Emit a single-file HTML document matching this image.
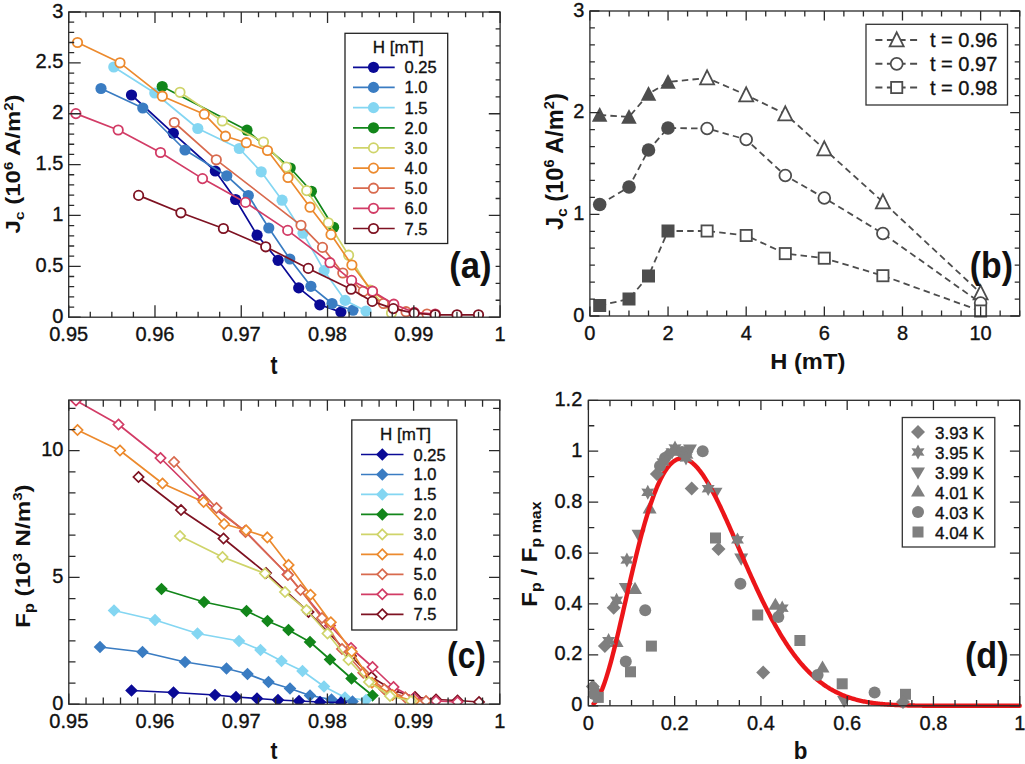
<!DOCTYPE html>
<html><head><meta charset="utf-8"><style>
html,body{margin:0;padding:0;background:#fff;}
svg{display:block;font-family:"Liberation Sans", sans-serif;}
</style></head><body>
<svg width="1025" height="764" viewBox="0 0 1025 764">
<rect width="1025" height="764" fill="#fff"/>
<text x="68.70" y="341.00" font-size="20" text-anchor="middle" font-weight="normal" fill="#111" stroke="#111" stroke-width="0.35">0.95</text>
<text x="154.98" y="341.00" font-size="20" text-anchor="middle" font-weight="normal" fill="#111" stroke="#111" stroke-width="0.35">0.96</text>
<text x="241.26" y="341.00" font-size="20" text-anchor="middle" font-weight="normal" fill="#111" stroke="#111" stroke-width="0.35">0.97</text>
<text x="327.54" y="341.00" font-size="20" text-anchor="middle" font-weight="normal" fill="#111" stroke="#111" stroke-width="0.35">0.98</text>
<text x="413.82" y="341.00" font-size="20" text-anchor="middle" font-weight="normal" fill="#111" stroke="#111" stroke-width="0.35">0.99</text>
<text x="500.10" y="341.00" font-size="20" text-anchor="middle" font-weight="normal" fill="#111" stroke="#111" stroke-width="0.35">1</text>
<text x="63.40" y="322.80" font-size="20" text-anchor="end" font-weight="normal" fill="#111" stroke="#111" stroke-width="0.35">0</text>
<text x="63.40" y="271.93" font-size="20" text-anchor="end" font-weight="normal" fill="#111" stroke="#111" stroke-width="0.35">0.5</text>
<text x="63.40" y="221.07" font-size="20" text-anchor="end" font-weight="normal" fill="#111" stroke="#111" stroke-width="0.35">1</text>
<text x="63.40" y="170.20" font-size="20" text-anchor="end" font-weight="normal" fill="#111" stroke="#111" stroke-width="0.35">1.5</text>
<text x="63.40" y="119.33" font-size="20" text-anchor="end" font-weight="normal" fill="#111" stroke="#111" stroke-width="0.35">2</text>
<text x="63.40" y="68.47" font-size="20" text-anchor="end" font-weight="normal" fill="#111" stroke="#111" stroke-width="0.35">2.5</text>
<text x="63.40" y="17.60" font-size="20" text-anchor="end" font-weight="normal" fill="#111" stroke="#111" stroke-width="0.35">3</text>
<g transform="matrix(0.87500 0 0 1.08750 274.000 374.100)"><text x="0.00" y="0.00" font-size="24" text-anchor="middle" font-weight="bold" fill="#111" >t</text></g>
<g transform="matrix(0.95714 0 0 1.14050 20.471 233.500)"><text transform="translate(0,0) rotate(-90)" font-size="21" font-weight="bold" fill="#111">J<tspan font-size="14" dy="4">c</tspan><tspan dy="-4"> (10</tspan><tspan font-size="13" dy="-8">6</tspan><tspan dy="8"> A/m</tspan><tspan font-size="13" dy="-8">2</tspan><tspan dy="8">)</tspan></text></g>
<clipPath id="cpa"><rect x="68.7" y="12" width="431.4" height="305.2"/></clipPath><g clip-path="url(#cpa)">
<polyline points="131.5,95.0 173.3,133.3 215.3,171.0 235.6,199.5 257.1,235.2 278.1,260.3 298.7,287.9 319.8,304.8 340.9,312.1" fill="none" stroke="#0a0a96" stroke-width="1.7" stroke-linejoin="round"/>
<circle cx="131.5" cy="95.0" r="5.6" fill="#0a0a96"/>
<circle cx="173.3" cy="133.3" r="5.6" fill="#0a0a96"/>
<circle cx="215.3" cy="171.0" r="5.6" fill="#0a0a96"/>
<circle cx="235.6" cy="199.5" r="5.6" fill="#0a0a96"/>
<circle cx="257.1" cy="235.2" r="5.6" fill="#0a0a96"/>
<circle cx="278.1" cy="260.3" r="5.6" fill="#0a0a96"/>
<circle cx="298.7" cy="287.9" r="5.6" fill="#0a0a96"/>
<circle cx="319.8" cy="304.8" r="5.6" fill="#0a0a96"/>
<circle cx="340.9" cy="312.1" r="5.6" fill="#0a0a96"/>
<polyline points="101.0,88.5 142.8,108.0 185.0,150.0 226.8,175.8 248.3,195.5 268.8,228.0 289.8,259.0 310.9,286.3 332.0,303.5 353.0,310.2" fill="none" stroke="#3a7cc2" stroke-width="1.7" stroke-linejoin="round"/>
<circle cx="101.0" cy="88.5" r="5.6" fill="#3a7cc2"/>
<circle cx="142.8" cy="108.0" r="5.6" fill="#3a7cc2"/>
<circle cx="185.0" cy="150.0" r="5.6" fill="#3a7cc2"/>
<circle cx="226.8" cy="175.8" r="5.6" fill="#3a7cc2"/>
<circle cx="248.3" cy="195.5" r="5.6" fill="#3a7cc2"/>
<circle cx="268.8" cy="228.0" r="5.6" fill="#3a7cc2"/>
<circle cx="289.8" cy="259.0" r="5.6" fill="#3a7cc2"/>
<circle cx="310.9" cy="286.3" r="5.6" fill="#3a7cc2"/>
<circle cx="332.0" cy="303.5" r="5.6" fill="#3a7cc2"/>
<circle cx="353.0" cy="310.2" r="5.6" fill="#3a7cc2"/>
<polyline points="113.8,67.0 154.8,93.0 197.8,128.5 239.3,148.5 261.2,171.8 282.1,200.2 303.0,233.2 324.1,270.7 345.2,300.4 366.0,311.0" fill="none" stroke="#84d6f2" stroke-width="1.7" stroke-linejoin="round"/>
<circle cx="113.8" cy="67.0" r="5.6" fill="#84d6f2"/>
<circle cx="154.8" cy="93.0" r="5.6" fill="#84d6f2"/>
<circle cx="197.8" cy="128.5" r="5.6" fill="#84d6f2"/>
<circle cx="239.3" cy="148.5" r="5.6" fill="#84d6f2"/>
<circle cx="261.2" cy="171.8" r="5.6" fill="#84d6f2"/>
<circle cx="282.1" cy="200.2" r="5.6" fill="#84d6f2"/>
<circle cx="303.0" cy="233.2" r="5.6" fill="#84d6f2"/>
<circle cx="324.1" cy="270.7" r="5.6" fill="#84d6f2"/>
<circle cx="345.2" cy="300.4" r="5.6" fill="#84d6f2"/>
<circle cx="366.0" cy="311.0" r="5.6" fill="#84d6f2"/>
<polyline points="162.2,86.5 247.0,130.2 290.2,168.0 311.4,191.3 333.6,227.3" fill="none" stroke="#12861a" stroke-width="1.7" stroke-linejoin="round"/>
<circle cx="162.2" cy="86.5" r="5.6" fill="#12861a"/>
<circle cx="247.0" cy="130.2" r="5.6" fill="#12861a"/>
<circle cx="290.2" cy="168.0" r="5.6" fill="#12861a"/>
<circle cx="311.4" cy="191.3" r="5.6" fill="#12861a"/>
<circle cx="333.6" cy="227.3" r="5.6" fill="#12861a"/>
<polyline points="180.0,92.3 222.3,121.0 263.5,142.0 286.3,167.1 306.7,190.6 328.3,222.8 348.6,255.2 370.0,290.0 391.5,313.0" fill="none" stroke="#cfd46a" stroke-width="1.7" stroke-linejoin="round"/>
<circle cx="180.0" cy="92.3" r="4.699999999999999" fill="#fff" stroke="#cfd46a" stroke-width="1.8"/>
<circle cx="222.3" cy="121.0" r="4.699999999999999" fill="#fff" stroke="#cfd46a" stroke-width="1.8"/>
<circle cx="263.5" cy="142.0" r="4.699999999999999" fill="#fff" stroke="#cfd46a" stroke-width="1.8"/>
<circle cx="286.3" cy="167.1" r="4.699999999999999" fill="#fff" stroke="#cfd46a" stroke-width="1.8"/>
<circle cx="306.7" cy="190.6" r="4.699999999999999" fill="#fff" stroke="#cfd46a" stroke-width="1.8"/>
<circle cx="328.3" cy="222.8" r="4.699999999999999" fill="#fff" stroke="#cfd46a" stroke-width="1.8"/>
<circle cx="348.6" cy="255.2" r="4.699999999999999" fill="#fff" stroke="#cfd46a" stroke-width="1.8"/>
<circle cx="370.0" cy="290.0" r="4.699999999999999" fill="#fff" stroke="#cfd46a" stroke-width="1.8"/>
<circle cx="391.5" cy="313.0" r="4.699999999999999" fill="#fff" stroke="#cfd46a" stroke-width="1.8"/>
<polyline points="77.5,42.5 120.0,62.8 162.3,96.2 204.3,114.2 225.5,136.2 246.3,142.7 267.5,150.5 288.0,177.5 310.0,207.2 331.0,234.6 351.9,265.0 372.5,291.5 393.0,306.0" fill="none" stroke="#ec8a2e" stroke-width="1.7" stroke-linejoin="round"/>
<circle cx="77.5" cy="42.5" r="4.699999999999999" fill="#fff" stroke="#ec8a2e" stroke-width="1.8"/>
<circle cx="120.0" cy="62.8" r="4.699999999999999" fill="#fff" stroke="#ec8a2e" stroke-width="1.8"/>
<circle cx="162.3" cy="96.2" r="4.699999999999999" fill="#fff" stroke="#ec8a2e" stroke-width="1.8"/>
<circle cx="204.3" cy="114.2" r="4.699999999999999" fill="#fff" stroke="#ec8a2e" stroke-width="1.8"/>
<circle cx="225.5" cy="136.2" r="4.699999999999999" fill="#fff" stroke="#ec8a2e" stroke-width="1.8"/>
<circle cx="246.3" cy="142.7" r="4.699999999999999" fill="#fff" stroke="#ec8a2e" stroke-width="1.8"/>
<circle cx="267.5" cy="150.5" r="4.699999999999999" fill="#fff" stroke="#ec8a2e" stroke-width="1.8"/>
<circle cx="288.0" cy="177.5" r="4.699999999999999" fill="#fff" stroke="#ec8a2e" stroke-width="1.8"/>
<circle cx="310.0" cy="207.2" r="4.699999999999999" fill="#fff" stroke="#ec8a2e" stroke-width="1.8"/>
<circle cx="331.0" cy="234.6" r="4.699999999999999" fill="#fff" stroke="#ec8a2e" stroke-width="1.8"/>
<circle cx="351.9" cy="265.0" r="4.699999999999999" fill="#fff" stroke="#ec8a2e" stroke-width="1.8"/>
<circle cx="372.5" cy="291.5" r="4.699999999999999" fill="#fff" stroke="#ec8a2e" stroke-width="1.8"/>
<circle cx="393.0" cy="306.0" r="4.699999999999999" fill="#fff" stroke="#ec8a2e" stroke-width="1.8"/>
<polyline points="174.3,122.5 216.3,159.8 301.0,225.3 322.5,247.4 342.8,273.0 363.3,291.4 383.5,303.5 406.0,311.7 427.0,314.0" fill="none" stroke="#d86a4e" stroke-width="1.7" stroke-linejoin="round"/>
<circle cx="174.3" cy="122.5" r="4.699999999999999" fill="#fff" stroke="#d86a4e" stroke-width="1.8"/>
<circle cx="216.3" cy="159.8" r="4.699999999999999" fill="#fff" stroke="#d86a4e" stroke-width="1.8"/>
<circle cx="301.0" cy="225.3" r="4.699999999999999" fill="#fff" stroke="#d86a4e" stroke-width="1.8"/>
<circle cx="322.5" cy="247.4" r="4.699999999999999" fill="#fff" stroke="#d86a4e" stroke-width="1.8"/>
<circle cx="342.8" cy="273.0" r="4.699999999999999" fill="#fff" stroke="#d86a4e" stroke-width="1.8"/>
<circle cx="363.3" cy="291.4" r="4.699999999999999" fill="#fff" stroke="#d86a4e" stroke-width="1.8"/>
<circle cx="383.5" cy="303.5" r="4.699999999999999" fill="#fff" stroke="#d86a4e" stroke-width="1.8"/>
<circle cx="406.0" cy="311.7" r="4.699999999999999" fill="#fff" stroke="#d86a4e" stroke-width="1.8"/>
<circle cx="427.0" cy="314.0" r="4.699999999999999" fill="#fff" stroke="#d86a4e" stroke-width="1.8"/>
<polyline points="75.9,113.6 118.2,130.0 160.5,152.5 202.5,178.6 245.5,202.4 287.7,230.4 330.0,262.7 351.6,280.4 372.5,291.2 393.8,304.2 414.2,312.4 435.2,314.0" fill="none" stroke="#d23c66" stroke-width="1.7" stroke-linejoin="round"/>
<circle cx="75.9" cy="113.6" r="4.699999999999999" fill="#fff" stroke="#d23c66" stroke-width="1.8"/>
<circle cx="118.2" cy="130.0" r="4.699999999999999" fill="#fff" stroke="#d23c66" stroke-width="1.8"/>
<circle cx="160.5" cy="152.5" r="4.699999999999999" fill="#fff" stroke="#d23c66" stroke-width="1.8"/>
<circle cx="202.5" cy="178.6" r="4.699999999999999" fill="#fff" stroke="#d23c66" stroke-width="1.8"/>
<circle cx="245.5" cy="202.4" r="4.699999999999999" fill="#fff" stroke="#d23c66" stroke-width="1.8"/>
<circle cx="287.7" cy="230.4" r="4.699999999999999" fill="#fff" stroke="#d23c66" stroke-width="1.8"/>
<circle cx="330.0" cy="262.7" r="4.699999999999999" fill="#fff" stroke="#d23c66" stroke-width="1.8"/>
<circle cx="351.6" cy="280.4" r="4.699999999999999" fill="#fff" stroke="#d23c66" stroke-width="1.8"/>
<circle cx="372.5" cy="291.2" r="4.699999999999999" fill="#fff" stroke="#d23c66" stroke-width="1.8"/>
<circle cx="393.8" cy="304.2" r="4.699999999999999" fill="#fff" stroke="#d23c66" stroke-width="1.8"/>
<circle cx="414.2" cy="312.4" r="4.699999999999999" fill="#fff" stroke="#d23c66" stroke-width="1.8"/>
<circle cx="435.2" cy="314.0" r="4.699999999999999" fill="#fff" stroke="#d23c66" stroke-width="1.8"/>
<polyline points="138.6,195.4 180.9,212.8 223.4,228.5 265.7,246.8 308.3,268.4 351.1,289.2 372.3,301.4 393.3,308.6 414.2,313.2 435.2,314.8 457.0,314.8 478.5,314.8" fill="none" stroke="#7e1222" stroke-width="1.7" stroke-linejoin="round"/>
<circle cx="138.6" cy="195.4" r="4.699999999999999" fill="#fff" stroke="#7e1222" stroke-width="1.8"/>
<circle cx="180.9" cy="212.8" r="4.699999999999999" fill="#fff" stroke="#7e1222" stroke-width="1.8"/>
<circle cx="223.4" cy="228.5" r="4.699999999999999" fill="#fff" stroke="#7e1222" stroke-width="1.8"/>
<circle cx="265.7" cy="246.8" r="4.699999999999999" fill="#fff" stroke="#7e1222" stroke-width="1.8"/>
<circle cx="308.3" cy="268.4" r="4.699999999999999" fill="#fff" stroke="#7e1222" stroke-width="1.8"/>
<circle cx="351.1" cy="289.2" r="4.699999999999999" fill="#fff" stroke="#7e1222" stroke-width="1.8"/>
<circle cx="372.3" cy="301.4" r="4.699999999999999" fill="#fff" stroke="#7e1222" stroke-width="1.8"/>
<circle cx="393.3" cy="308.6" r="4.699999999999999" fill="#fff" stroke="#7e1222" stroke-width="1.8"/>
<circle cx="414.2" cy="313.2" r="4.699999999999999" fill="#fff" stroke="#7e1222" stroke-width="1.8"/>
<circle cx="435.2" cy="314.8" r="4.699999999999999" fill="#fff" stroke="#7e1222" stroke-width="1.8"/>
<circle cx="457.0" cy="314.8" r="4.699999999999999" fill="#fff" stroke="#7e1222" stroke-width="1.8"/>
<circle cx="478.5" cy="314.8" r="4.699999999999999" fill="#fff" stroke="#7e1222" stroke-width="1.8"/>
</g>
<rect x="345" y="33.3" width="102.7" height="210.2" fill="#fff" stroke="#222" stroke-width="1.3"/>
<g transform="matrix(1.06304 0 0 0.98667 398.150 53.440)"><text x="0.00" y="0.00" font-size="16" text-anchor="middle" font-weight="normal" fill="#111" stroke="#111" stroke-width="0.3">H [mT]</text></g>
<line x1="353" y1="67.3" x2="394.7" y2="67.3" stroke="#0a0a96" stroke-width="1.7"/>
<circle cx="373.5" cy="67.3" r="5.6" fill="#0a0a96"/>
<text x="404.50" y="73.30" font-size="16.5" text-anchor="start" font-weight="normal" fill="#111" stroke="#111" stroke-width="0.35">0.25</text>
<line x1="353" y1="87.4" x2="394.7" y2="87.4" stroke="#3a7cc2" stroke-width="1.7"/>
<circle cx="373.5" cy="87.4" r="5.6" fill="#3a7cc2"/>
<text x="404.50" y="93.45" font-size="16.5" text-anchor="start" font-weight="normal" fill="#111" stroke="#111" stroke-width="0.35">1.0</text>
<line x1="353" y1="107.6" x2="394.7" y2="107.6" stroke="#84d6f2" stroke-width="1.7"/>
<circle cx="373.5" cy="107.6" r="5.6" fill="#84d6f2"/>
<text x="404.50" y="113.60" font-size="16.5" text-anchor="start" font-weight="normal" fill="#111" stroke="#111" stroke-width="0.35">1.5</text>
<line x1="353" y1="127.8" x2="394.7" y2="127.8" stroke="#12861a" stroke-width="1.7"/>
<circle cx="373.5" cy="127.8" r="5.6" fill="#12861a"/>
<text x="404.50" y="133.75" font-size="16.5" text-anchor="start" font-weight="normal" fill="#111" stroke="#111" stroke-width="0.35">2.0</text>
<line x1="353" y1="147.9" x2="394.7" y2="147.9" stroke="#cfd46a" stroke-width="1.7"/>
<circle cx="373.5" cy="147.9" r="4.699999999999999" fill="#fff" stroke="#cfd46a" stroke-width="1.8"/>
<text x="404.50" y="153.90" font-size="16.5" text-anchor="start" font-weight="normal" fill="#111" stroke="#111" stroke-width="0.35">3.0</text>
<line x1="353" y1="168.1" x2="394.7" y2="168.1" stroke="#ec8a2e" stroke-width="1.7"/>
<circle cx="373.5" cy="168.1" r="4.699999999999999" fill="#fff" stroke="#ec8a2e" stroke-width="1.8"/>
<text x="404.50" y="174.05" font-size="16.5" text-anchor="start" font-weight="normal" fill="#111" stroke="#111" stroke-width="0.35">4.0</text>
<line x1="353" y1="188.2" x2="394.7" y2="188.2" stroke="#d86a4e" stroke-width="1.7"/>
<circle cx="373.5" cy="188.2" r="4.699999999999999" fill="#fff" stroke="#d86a4e" stroke-width="1.8"/>
<text x="404.50" y="194.20" font-size="16.5" text-anchor="start" font-weight="normal" fill="#111" stroke="#111" stroke-width="0.35">5.0</text>
<line x1="353" y1="208.3" x2="394.7" y2="208.3" stroke="#d23c66" stroke-width="1.7"/>
<circle cx="373.5" cy="208.3" r="4.699999999999999" fill="#fff" stroke="#d23c66" stroke-width="1.8"/>
<text x="404.50" y="214.35" font-size="16.5" text-anchor="start" font-weight="normal" fill="#111" stroke="#111" stroke-width="0.35">6.0</text>
<line x1="353" y1="228.5" x2="394.7" y2="228.5" stroke="#7e1222" stroke-width="1.7"/>
<circle cx="373.5" cy="228.5" r="4.699999999999999" fill="#fff" stroke="#7e1222" stroke-width="1.8"/>
<text x="404.50" y="234.50" font-size="16.5" text-anchor="start" font-weight="normal" fill="#111" stroke="#111" stroke-width="0.35">7.5</text>
<g transform="matrix(1.01842 0 0 1.07097 470.450 278.003)"><text x="0.00" y="0.00" font-size="34" text-anchor="middle" font-weight="bold" fill="#111" >(a)</text></g>
<text x="589.90" y="339.60" font-size="20" text-anchor="middle" font-weight="normal" fill="#111" stroke="#111" stroke-width="0.35">0</text>
<text x="668.05" y="339.60" font-size="20" text-anchor="middle" font-weight="normal" fill="#111" stroke="#111" stroke-width="0.35">2</text>
<text x="746.19" y="339.60" font-size="20" text-anchor="middle" font-weight="normal" fill="#111" stroke="#111" stroke-width="0.35">4</text>
<text x="824.34" y="339.60" font-size="20" text-anchor="middle" font-weight="normal" fill="#111" stroke="#111" stroke-width="0.35">6</text>
<text x="902.48" y="339.60" font-size="20" text-anchor="middle" font-weight="normal" fill="#111" stroke="#111" stroke-width="0.35">8</text>
<text x="980.63" y="339.60" font-size="20" text-anchor="middle" font-weight="normal" fill="#111" stroke="#111" stroke-width="0.35">10</text>
<text x="584.30" y="321.60" font-size="20" text-anchor="end" font-weight="normal" fill="#111" stroke="#111" stroke-width="0.35">0</text>
<text x="584.30" y="219.93" font-size="20" text-anchor="end" font-weight="normal" fill="#111" stroke="#111" stroke-width="0.35">1</text>
<text x="584.30" y="118.27" font-size="20" text-anchor="end" font-weight="normal" fill="#111" stroke="#111" stroke-width="0.35">2</text>
<text x="584.30" y="16.60" font-size="20" text-anchor="end" font-weight="normal" fill="#111" stroke="#111" stroke-width="0.35">3</text>
<g transform="matrix(1.07761 0 0 1.01905 807.761 369.005)"><text x="0.00" y="0.00" font-size="22" text-anchor="middle" font-weight="bold" fill="#111" >H (mT)</text></g>
<g transform="matrix(1.09524 0 0 1.12397 563.019 230.100)"><text transform="translate(0,0) rotate(-90)" font-size="21" font-weight="bold" fill="#111">J<tspan font-size="14" dy="4">c</tspan><tspan dy="-4"> (10</tspan><tspan font-size="13" dy="-8">6</tspan><tspan dy="8"> A/m</tspan><tspan font-size="13" dy="-8">2</tspan><tspan dy="8">)</tspan></text></g>
<polyline points="599.7,115.0 629.0,117.0 648.5,94.0 668.0,82.0 707.1,78.0 746.2,95.0 785.3,114.0 824.3,149.0 882.9,202.0 980.6,293.0" fill="none" stroke="#4d4d4d" stroke-width="1.8" stroke-linejoin="round" stroke-dasharray="6.5,4.2"/>
<path d="M599.7,106.9L607.4,121.7L591.9,121.7Z" fill="#4d4d4d"/>
<path d="M629.0,108.9L636.7,123.7L621.2,123.7Z" fill="#4d4d4d"/>
<path d="M648.5,85.9L656.3,100.7L640.8,100.7Z" fill="#4d4d4d"/>
<path d="M668.0,73.9L675.8,88.7L660.3,88.7Z" fill="#4d4d4d"/>
<path d="M707.1,70.3L714.1,84.3L700.1,84.3Z" fill="#fff" stroke="#4d4d4d" stroke-width="1.8" stroke-linejoin="miter"/>
<path d="M746.2,87.3L753.2,101.3L739.2,101.3Z" fill="#fff" stroke="#4d4d4d" stroke-width="1.8" stroke-linejoin="miter"/>
<path d="M785.3,106.3L792.3,120.3L778.3,120.3Z" fill="#fff" stroke="#4d4d4d" stroke-width="1.8" stroke-linejoin="miter"/>
<path d="M824.3,141.3L831.3,155.3L817.3,155.3Z" fill="#fff" stroke="#4d4d4d" stroke-width="1.8" stroke-linejoin="miter"/>
<path d="M882.9,194.3L889.9,208.3L875.9,208.3Z" fill="#fff" stroke="#4d4d4d" stroke-width="1.8" stroke-linejoin="miter"/>
<path d="M980.6,285.3L987.6,299.3L973.6,299.3Z" fill="#fff" stroke="#4d4d4d" stroke-width="1.8" stroke-linejoin="miter"/>
<polyline points="599.7,204.5 629.0,187.0 648.5,150.0 668.0,128.0 707.1,128.5 746.2,139.5 785.3,175.5 824.3,198.0 882.9,233.5 980.6,303.0" fill="none" stroke="#4d4d4d" stroke-width="1.8" stroke-linejoin="round" stroke-dasharray="6.5,4.2"/>
<circle cx="599.7" cy="204.5" r="6.8" fill="#4d4d4d"/>
<circle cx="629.0" cy="187.0" r="6.8" fill="#4d4d4d"/>
<circle cx="648.5" cy="150.0" r="6.8" fill="#4d4d4d"/>
<circle cx="668.0" cy="128.0" r="6.8" fill="#4d4d4d"/>
<circle cx="707.1" cy="128.5" r="5.8999999999999995" fill="#fff" stroke="#4d4d4d" stroke-width="1.8"/>
<circle cx="746.2" cy="139.5" r="5.8999999999999995" fill="#fff" stroke="#4d4d4d" stroke-width="1.8"/>
<circle cx="785.3" cy="175.5" r="5.8999999999999995" fill="#fff" stroke="#4d4d4d" stroke-width="1.8"/>
<circle cx="824.3" cy="198.0" r="5.8999999999999995" fill="#fff" stroke="#4d4d4d" stroke-width="1.8"/>
<circle cx="882.9" cy="233.5" r="5.8999999999999995" fill="#fff" stroke="#4d4d4d" stroke-width="1.8"/>
<circle cx="980.6" cy="303.0" r="5.8999999999999995" fill="#fff" stroke="#4d4d4d" stroke-width="1.8"/>
<polyline points="599.7,305.5 629.0,299.0 648.5,276.0 668.0,231.0 707.1,231.0 746.2,235.5 785.3,253.6 824.3,258.2 882.9,275.7 980.6,311.0" fill="none" stroke="#4d4d4d" stroke-width="1.8" stroke-linejoin="round" stroke-dasharray="6.5,4.2"/>
<rect x="593.2" y="299.0" width="13" height="13" fill="#4d4d4d"/>
<rect x="622.5" y="292.5" width="13" height="13" fill="#4d4d4d"/>
<rect x="642.0" y="269.5" width="13" height="13" fill="#4d4d4d"/>
<rect x="661.5" y="224.5" width="13" height="13" fill="#4d4d4d"/>
<rect x="701.5" y="225.4" width="11.2" height="11.2" fill="#fff" stroke="#4d4d4d" stroke-width="1.8"/>
<rect x="740.6" y="229.9" width="11.2" height="11.2" fill="#fff" stroke="#4d4d4d" stroke-width="1.8"/>
<rect x="779.7" y="248.0" width="11.2" height="11.2" fill="#fff" stroke="#4d4d4d" stroke-width="1.8"/>
<rect x="818.7" y="252.6" width="11.2" height="11.2" fill="#fff" stroke="#4d4d4d" stroke-width="1.8"/>
<rect x="877.3" y="270.1" width="11.2" height="11.2" fill="#fff" stroke="#4d4d4d" stroke-width="1.8"/>
<rect x="975.0" y="305.4" width="11.2" height="11.2" fill="#fff" stroke="#4d4d4d" stroke-width="1.8"/>
<rect x="866" y="24.3" width="141.5" height="80.7" fill="#fff" stroke="#333" stroke-width="1.3"/>
<line x1="875.4" y1="40.0" x2="896.7" y2="40.0" stroke="#4d4d4d" stroke-width="1.8" stroke-dasharray="7,4.5"/>
<line x1="917.1" y1="40.0" x2="896.7" y2="40.0" stroke="#4d4d4d" stroke-width="1.8" stroke-dasharray="7,4.5"/>
<path d="M896.7,32.3L903.7,46.3L889.7,46.3Z" fill="#fff" stroke="#4d4d4d" stroke-width="1.8" stroke-linejoin="miter"/>
<text x="930.00" y="47.30" font-size="20" text-anchor="start" font-weight="normal" fill="#111" stroke="#111" stroke-width="0.35">t = 0.96</text>
<line x1="875.4" y1="63.75" x2="896.7" y2="63.75" stroke="#4d4d4d" stroke-width="1.8" stroke-dasharray="7,4.5"/>
<line x1="917.1" y1="63.75" x2="896.7" y2="63.75" stroke="#4d4d4d" stroke-width="1.8" stroke-dasharray="7,4.5"/>
<circle cx="896.7" cy="63.8" r="6.0" fill="#fff" stroke="#4d4d4d" stroke-width="1.8"/>
<text x="930.00" y="71.05" font-size="20" text-anchor="start" font-weight="normal" fill="#111" stroke="#111" stroke-width="0.35">t = 0.97</text>
<line x1="875.4" y1="87.5" x2="896.7" y2="87.5" stroke="#4d4d4d" stroke-width="1.8" stroke-dasharray="7,4.5"/>
<line x1="917.1" y1="87.5" x2="896.7" y2="87.5" stroke="#4d4d4d" stroke-width="1.8" stroke-dasharray="7,4.5"/>
<rect x="891.1" y="81.9" width="11.2" height="11.2" fill="#fff" stroke="#4d4d4d" stroke-width="1.8"/>
<text x="930.00" y="94.80" font-size="20" text-anchor="start" font-weight="normal" fill="#111" stroke="#111" stroke-width="0.35">t = 0.98</text>
<g transform="matrix(0.99500 0 0 1.06774 991.400 277.926)"><text x="0.00" y="0.00" font-size="34" text-anchor="middle" font-weight="bold" fill="#111" >(b)</text></g>
<text x="68.80" y="728.00" font-size="20" text-anchor="middle" font-weight="normal" fill="#111" stroke="#111" stroke-width="0.35">0.95</text>
<text x="155.00" y="728.00" font-size="20" text-anchor="middle" font-weight="normal" fill="#111" stroke="#111" stroke-width="0.35">0.96</text>
<text x="241.20" y="728.00" font-size="20" text-anchor="middle" font-weight="normal" fill="#111" stroke="#111" stroke-width="0.35">0.97</text>
<text x="327.40" y="728.00" font-size="20" text-anchor="middle" font-weight="normal" fill="#111" stroke="#111" stroke-width="0.35">0.98</text>
<text x="413.60" y="728.00" font-size="20" text-anchor="middle" font-weight="normal" fill="#111" stroke="#111" stroke-width="0.35">0.99</text>
<text x="499.80" y="728.00" font-size="20" text-anchor="middle" font-weight="normal" fill="#111" stroke="#111" stroke-width="0.35">1</text>
<text x="63.40" y="709.80" font-size="20" text-anchor="end" font-weight="normal" fill="#111" stroke="#111" stroke-width="0.35">0</text>
<text x="63.40" y="583.05" font-size="20" text-anchor="end" font-weight="normal" fill="#111" stroke="#111" stroke-width="0.35">5</text>
<text x="63.40" y="456.30" font-size="20" text-anchor="end" font-weight="normal" fill="#111" stroke="#111" stroke-width="0.35">10</text>
<g transform="matrix(0.87500 0 0 1.00625 274.000 759.300)"><text x="0.00" y="0.00" font-size="24" text-anchor="middle" font-weight="bold" fill="#111" >t</text></g>
<g transform="matrix(0.97917 0 0 1.15122 30.146 627.751)"><text transform="translate(0,0) rotate(-90)" font-size="21" font-weight="bold" fill="#111">F<tspan font-size="14" dy="4">p</tspan><tspan dy="-4"> (10</tspan><tspan font-size="13" dy="-8">3</tspan><tspan dy="8"> N/m</tspan><tspan font-size="13" dy="-8">3</tspan><tspan dy="8">)</tspan></text></g>
<clipPath id="cpc"><rect x="68.8" y="400" width="431" height="304.2"/></clipPath><g clip-path="url(#cpc)">
<polyline points="138.5,477.0 181.0,510.0 223.5,538.5 266.0,573.0 308.5,612.0 351.0,656.0 371.5,677.0 393.5,690.5 415.0,697.0 436.0,699.5 457.5,700.5 479.0,702.0" fill="none" stroke="#7e1222" stroke-width="1.7" stroke-linejoin="round"/>
<path d="M138.5,471.9L143.6,477.0L138.5,482.1L133.4,477.0Z" fill="#fff" stroke="#7e1222" stroke-width="1.7"/>
<path d="M181.0,504.9L186.1,510.0L181.0,515.1L175.9,510.0Z" fill="#fff" stroke="#7e1222" stroke-width="1.7"/>
<path d="M223.5,533.4L228.6,538.5L223.5,543.6L218.4,538.5Z" fill="#fff" stroke="#7e1222" stroke-width="1.7"/>
<path d="M266.0,567.9L271.1,573.0L266.0,578.1L260.9,573.0Z" fill="#fff" stroke="#7e1222" stroke-width="1.7"/>
<path d="M308.5,606.9L313.6,612.0L308.5,617.1L303.4,612.0Z" fill="#fff" stroke="#7e1222" stroke-width="1.7"/>
<path d="M351.0,650.9L356.1,656.0L351.0,661.1L345.9,656.0Z" fill="#fff" stroke="#7e1222" stroke-width="1.7"/>
<path d="M371.5,671.9L376.6,677.0L371.5,682.1L366.4,677.0Z" fill="#fff" stroke="#7e1222" stroke-width="1.7"/>
<path d="M393.5,685.4L398.6,690.5L393.5,695.6L388.4,690.5Z" fill="#fff" stroke="#7e1222" stroke-width="1.7"/>
<path d="M415.0,691.9L420.1,697.0L415.0,702.1L409.9,697.0Z" fill="#fff" stroke="#7e1222" stroke-width="1.7"/>
<path d="M436.0,694.4L441.1,699.5L436.0,704.6L430.9,699.5Z" fill="#fff" stroke="#7e1222" stroke-width="1.7"/>
<path d="M457.5,695.4L462.6,700.5L457.5,705.6L452.4,700.5Z" fill="#fff" stroke="#7e1222" stroke-width="1.7"/>
<path d="M479.0,696.9L484.1,702.0L479.0,707.1L473.9,702.0Z" fill="#fff" stroke="#7e1222" stroke-width="1.7"/>
<polyline points="76.0,400.5 118.5,424.5 160.5,458.0 202.5,499.5 245.0,531.0 287.5,574.5 330.0,625.5 351.0,648.0 372.5,667.0 393.5,687.0 414.0,698.0 436.0,701.0 457.5,702.0" fill="none" stroke="#d23c66" stroke-width="1.7" stroke-linejoin="round"/>
<path d="M76.0,395.4L81.1,400.5L76.0,405.6L70.9,400.5Z" fill="#fff" stroke="#d23c66" stroke-width="1.7"/>
<path d="M118.5,419.4L123.6,424.5L118.5,429.6L113.4,424.5Z" fill="#fff" stroke="#d23c66" stroke-width="1.7"/>
<path d="M160.5,452.9L165.6,458.0L160.5,463.1L155.4,458.0Z" fill="#fff" stroke="#d23c66" stroke-width="1.7"/>
<path d="M202.5,494.4L207.6,499.5L202.5,504.6L197.4,499.5Z" fill="#fff" stroke="#d23c66" stroke-width="1.7"/>
<path d="M245.0,525.9L250.1,531.0L245.0,536.1L239.9,531.0Z" fill="#fff" stroke="#d23c66" stroke-width="1.7"/>
<path d="M287.5,569.4L292.6,574.5L287.5,579.6L282.4,574.5Z" fill="#fff" stroke="#d23c66" stroke-width="1.7"/>
<path d="M330.0,620.4L335.1,625.5L330.0,630.6L324.9,625.5Z" fill="#fff" stroke="#d23c66" stroke-width="1.7"/>
<path d="M351.0,642.9L356.1,648.0L351.0,653.1L345.9,648.0Z" fill="#fff" stroke="#d23c66" stroke-width="1.7"/>
<path d="M372.5,661.9L377.6,667.0L372.5,672.1L367.4,667.0Z" fill="#fff" stroke="#d23c66" stroke-width="1.7"/>
<path d="M393.5,681.9L398.6,687.0L393.5,692.1L388.4,687.0Z" fill="#fff" stroke="#d23c66" stroke-width="1.7"/>
<path d="M414.0,692.9L419.1,698.0L414.0,703.1L408.9,698.0Z" fill="#fff" stroke="#d23c66" stroke-width="1.7"/>
<path d="M436.0,695.9L441.1,701.0L436.0,706.1L430.9,701.0Z" fill="#fff" stroke="#d23c66" stroke-width="1.7"/>
<path d="M457.5,696.9L462.6,702.0L457.5,707.1L452.4,702.0Z" fill="#fff" stroke="#d23c66" stroke-width="1.7"/>
<polyline points="174.0,462.0 216.5,508.0 245.5,532.0 288.0,575.0 300.5,590.0 322.0,618.0 342.0,649.0 363.3,672.8 384.3,689.2 405.4,697.4 426.0,701.0" fill="none" stroke="#d86a4e" stroke-width="1.7" stroke-linejoin="round"/>
<path d="M174.0,456.9L179.1,462.0L174.0,467.1L168.9,462.0Z" fill="#fff" stroke="#d86a4e" stroke-width="1.7"/>
<path d="M216.5,502.9L221.6,508.0L216.5,513.1L211.4,508.0Z" fill="#fff" stroke="#d86a4e" stroke-width="1.7"/>
<path d="M245.5,526.9L250.6,532.0L245.5,537.1L240.4,532.0Z" fill="#fff" stroke="#d86a4e" stroke-width="1.7"/>
<path d="M288.0,569.9L293.1,575.0L288.0,580.1L282.9,575.0Z" fill="#fff" stroke="#d86a4e" stroke-width="1.7"/>
<path d="M300.5,584.9L305.6,590.0L300.5,595.1L295.4,590.0Z" fill="#fff" stroke="#d86a4e" stroke-width="1.7"/>
<path d="M322.0,612.9L327.1,618.0L322.0,623.1L316.9,618.0Z" fill="#fff" stroke="#d86a4e" stroke-width="1.7"/>
<path d="M342.0,643.9L347.1,649.0L342.0,654.1L336.9,649.0Z" fill="#fff" stroke="#d86a4e" stroke-width="1.7"/>
<path d="M363.3,667.7L368.4,672.8L363.3,677.9L358.2,672.8Z" fill="#fff" stroke="#d86a4e" stroke-width="1.7"/>
<path d="M384.3,684.1L389.4,689.2L384.3,694.3L379.2,689.2Z" fill="#fff" stroke="#d86a4e" stroke-width="1.7"/>
<path d="M405.4,692.3L410.5,697.4L405.4,702.5L400.3,697.4Z" fill="#fff" stroke="#d86a4e" stroke-width="1.7"/>
<path d="M426.0,695.9L431.1,701.0L426.0,706.1L420.9,701.0Z" fill="#fff" stroke="#d86a4e" stroke-width="1.7"/>
<polyline points="77.5,430.0 120.0,450.5 162.5,483.5 203.6,502.0 224.1,524.0 246.1,530.3 267.3,537.4 288.6,564.9 310.5,594.7 330.8,622.2 351.7,651.6 372.0,682.7 392.5,695.0 414.0,701.0" fill="none" stroke="#ec8a2e" stroke-width="1.7" stroke-linejoin="round"/>
<path d="M77.5,424.9L82.6,430.0L77.5,435.1L72.4,430.0Z" fill="#fff" stroke="#ec8a2e" stroke-width="1.7"/>
<path d="M120.0,445.4L125.1,450.5L120.0,455.6L114.9,450.5Z" fill="#fff" stroke="#ec8a2e" stroke-width="1.7"/>
<path d="M162.5,478.4L167.6,483.5L162.5,488.6L157.4,483.5Z" fill="#fff" stroke="#ec8a2e" stroke-width="1.7"/>
<path d="M203.6,496.9L208.7,502.0L203.6,507.1L198.5,502.0Z" fill="#fff" stroke="#ec8a2e" stroke-width="1.7"/>
<path d="M224.1,518.9L229.2,524.0L224.1,529.1L219.0,524.0Z" fill="#fff" stroke="#ec8a2e" stroke-width="1.7"/>
<path d="M246.1,525.2L251.2,530.3L246.1,535.4L241.0,530.3Z" fill="#fff" stroke="#ec8a2e" stroke-width="1.7"/>
<path d="M267.3,532.3L272.4,537.4L267.3,542.5L262.2,537.4Z" fill="#fff" stroke="#ec8a2e" stroke-width="1.7"/>
<path d="M288.6,559.8L293.7,564.9L288.6,570.0L283.5,564.9Z" fill="#fff" stroke="#ec8a2e" stroke-width="1.7"/>
<path d="M310.5,589.6L315.6,594.7L310.5,599.8L305.4,594.7Z" fill="#fff" stroke="#ec8a2e" stroke-width="1.7"/>
<path d="M330.8,617.1L335.9,622.2L330.8,627.3L325.7,622.2Z" fill="#fff" stroke="#ec8a2e" stroke-width="1.7"/>
<path d="M351.7,646.5L356.8,651.6L351.7,656.7L346.6,651.6Z" fill="#fff" stroke="#ec8a2e" stroke-width="1.7"/>
<path d="M372.0,677.6L377.1,682.7L372.0,687.8L366.9,682.7Z" fill="#fff" stroke="#ec8a2e" stroke-width="1.7"/>
<path d="M392.5,689.9L397.6,695.0L392.5,700.1L387.4,695.0Z" fill="#fff" stroke="#ec8a2e" stroke-width="1.7"/>
<path d="M414.0,695.9L419.1,701.0L414.0,706.1L408.9,701.0Z" fill="#fff" stroke="#ec8a2e" stroke-width="1.7"/>
<polyline points="180.0,536.0 222.5,557.0 265.0,573.5 285.0,592.0 306.5,610.0 327.5,633.5 348.5,660.0 369.0,682.0 390.0,696.0 411.0,701.0" fill="none" stroke="#cfd46a" stroke-width="1.7" stroke-linejoin="round"/>
<path d="M180.0,530.9L185.1,536.0L180.0,541.1L174.9,536.0Z" fill="#fff" stroke="#cfd46a" stroke-width="1.7"/>
<path d="M222.5,551.9L227.6,557.0L222.5,562.1L217.4,557.0Z" fill="#fff" stroke="#cfd46a" stroke-width="1.7"/>
<path d="M265.0,568.4L270.1,573.5L265.0,578.6L259.9,573.5Z" fill="#fff" stroke="#cfd46a" stroke-width="1.7"/>
<path d="M285.0,586.9L290.1,592.0L285.0,597.1L279.9,592.0Z" fill="#fff" stroke="#cfd46a" stroke-width="1.7"/>
<path d="M306.5,604.9L311.6,610.0L306.5,615.1L301.4,610.0Z" fill="#fff" stroke="#cfd46a" stroke-width="1.7"/>
<path d="M327.5,628.4L332.6,633.5L327.5,638.6L322.4,633.5Z" fill="#fff" stroke="#cfd46a" stroke-width="1.7"/>
<path d="M348.5,654.9L353.6,660.0L348.5,665.1L343.4,660.0Z" fill="#fff" stroke="#cfd46a" stroke-width="1.7"/>
<path d="M369.0,676.9L374.1,682.0L369.0,687.1L363.9,682.0Z" fill="#fff" stroke="#cfd46a" stroke-width="1.7"/>
<path d="M390.0,690.9L395.1,696.0L390.0,701.1L384.9,696.0Z" fill="#fff" stroke="#cfd46a" stroke-width="1.7"/>
<path d="M411.0,695.9L416.1,701.0L411.0,706.1L405.9,701.0Z" fill="#fff" stroke="#cfd46a" stroke-width="1.7"/>
<polyline points="161.5,589.0 204.0,602.0 246.5,611.0 267.5,621.0 288.5,630.0 310.0,642.0 330.0,659.5 351.5,678.5 372.5,695.5" fill="none" stroke="#12861a" stroke-width="1.7" stroke-linejoin="round"/>
<path d="M161.5,582.7L167.8,589.0L161.5,595.3L155.2,589.0Z" fill="#12861a"/>
<path d="M204.0,595.7L210.3,602.0L204.0,608.3L197.7,602.0Z" fill="#12861a"/>
<path d="M246.5,604.7L252.8,611.0L246.5,617.3L240.2,611.0Z" fill="#12861a"/>
<path d="M267.5,614.7L273.8,621.0L267.5,627.3L261.2,621.0Z" fill="#12861a"/>
<path d="M288.5,623.7L294.8,630.0L288.5,636.3L282.2,630.0Z" fill="#12861a"/>
<path d="M310.0,635.7L316.3,642.0L310.0,648.3L303.7,642.0Z" fill="#12861a"/>
<path d="M330.0,653.2L336.3,659.5L330.0,665.8L323.7,659.5Z" fill="#12861a"/>
<path d="M351.5,672.2L357.8,678.5L351.5,684.8L345.2,678.5Z" fill="#12861a"/>
<path d="M372.5,689.2L378.8,695.5L372.5,701.8L366.2,695.5Z" fill="#12861a"/>
<polyline points="114.0,610.5 155.0,620.0 197.5,633.5 239.0,641.0 260.5,650.0 281.5,661.0 302.5,671.0 324.0,686.5 345.0,697.5 366.0,700.0" fill="none" stroke="#84d6f2" stroke-width="1.7" stroke-linejoin="round"/>
<path d="M114.0,604.2L120.3,610.5L114.0,616.8L107.7,610.5Z" fill="#84d6f2"/>
<path d="M155.0,613.7L161.3,620.0L155.0,626.3L148.7,620.0Z" fill="#84d6f2"/>
<path d="M197.5,627.2L203.8,633.5L197.5,639.8L191.2,633.5Z" fill="#84d6f2"/>
<path d="M239.0,634.7L245.3,641.0L239.0,647.3L232.7,641.0Z" fill="#84d6f2"/>
<path d="M260.5,643.7L266.8,650.0L260.5,656.3L254.2,650.0Z" fill="#84d6f2"/>
<path d="M281.5,654.7L287.8,661.0L281.5,667.3L275.2,661.0Z" fill="#84d6f2"/>
<path d="M302.5,664.7L308.8,671.0L302.5,677.3L296.2,671.0Z" fill="#84d6f2"/>
<path d="M324.0,680.2L330.3,686.5L324.0,692.8L317.7,686.5Z" fill="#84d6f2"/>
<path d="M345.0,691.2L351.3,697.5L345.0,703.8L338.7,697.5Z" fill="#84d6f2"/>
<path d="M366.0,693.7L372.3,700.0L366.0,706.3L359.7,700.0Z" fill="#84d6f2"/>
<polyline points="100.0,647.0 142.5,652.0 185.0,662.0 226.5,668.5 247.5,674.0 268.5,682.0 290.0,688.5 310.0,695.5 331.5,699.5 352.5,701.5" fill="none" stroke="#3a7cc2" stroke-width="1.7" stroke-linejoin="round"/>
<path d="M100.0,640.7L106.3,647.0L100.0,653.3L93.7,647.0Z" fill="#3a7cc2"/>
<path d="M142.5,645.7L148.8,652.0L142.5,658.3L136.2,652.0Z" fill="#3a7cc2"/>
<path d="M185.0,655.7L191.3,662.0L185.0,668.3L178.7,662.0Z" fill="#3a7cc2"/>
<path d="M226.5,662.2L232.8,668.5L226.5,674.8L220.2,668.5Z" fill="#3a7cc2"/>
<path d="M247.5,667.7L253.8,674.0L247.5,680.3L241.2,674.0Z" fill="#3a7cc2"/>
<path d="M268.5,675.7L274.8,682.0L268.5,688.3L262.2,682.0Z" fill="#3a7cc2"/>
<path d="M290.0,682.2L296.3,688.5L290.0,694.8L283.7,688.5Z" fill="#3a7cc2"/>
<path d="M310.0,689.2L316.3,695.5L310.0,701.8L303.7,695.5Z" fill="#3a7cc2"/>
<path d="M331.5,693.2L337.8,699.5L331.5,705.8L325.2,699.5Z" fill="#3a7cc2"/>
<path d="M352.5,695.2L358.8,701.5L352.5,707.8L346.2,701.5Z" fill="#3a7cc2"/>
<polyline points="131.5,690.5 173.5,692.5 215.0,695.0 236.0,697.0 257.0,698.5 278.0,700.0 299.0,701.0 320.0,702.0 341.0,702.5" fill="none" stroke="#0a0a96" stroke-width="1.7" stroke-linejoin="round"/>
<path d="M131.5,684.2L137.8,690.5L131.5,696.8L125.2,690.5Z" fill="#0a0a96"/>
<path d="M173.5,686.2L179.8,692.5L173.5,698.8L167.2,692.5Z" fill="#0a0a96"/>
<path d="M215.0,688.7L221.3,695.0L215.0,701.3L208.7,695.0Z" fill="#0a0a96"/>
<path d="M236.0,690.7L242.3,697.0L236.0,703.3L229.7,697.0Z" fill="#0a0a96"/>
<path d="M257.0,692.2L263.3,698.5L257.0,704.8L250.7,698.5Z" fill="#0a0a96"/>
<path d="M278.0,693.7L284.3,700.0L278.0,706.3L271.7,700.0Z" fill="#0a0a96"/>
<path d="M299.0,694.7L305.3,701.0L299.0,707.3L292.7,701.0Z" fill="#0a0a96"/>
<path d="M320.0,695.7L326.3,702.0L320.0,708.3L313.7,702.0Z" fill="#0a0a96"/>
<path d="M341.0,696.2L347.3,702.5L341.0,708.8L334.7,702.5Z" fill="#0a0a96"/>
</g>
<rect x="351.8" y="420" width="105" height="210" fill="#fff" stroke="#222" stroke-width="1.3"/>
<g transform="matrix(1.06304 0 0 1.00667 405.550 440.080)"><text x="0.00" y="0.00" font-size="16" text-anchor="middle" font-weight="normal" fill="#111" stroke="#111" stroke-width="0.3">H [mT]</text></g>
<line x1="361" y1="454.5" x2="403.5" y2="454.5" stroke="#0a0a96" stroke-width="1.7"/>
<path d="M382.3,448.2L388.6,454.5L382.3,460.8L376.0,454.5Z" fill="#0a0a96"/>
<text x="413.50" y="460.50" font-size="16.5" text-anchor="start" font-weight="normal" fill="#111" stroke="#111" stroke-width="0.35">0.25</text>
<line x1="361" y1="474.5" x2="403.5" y2="474.5" stroke="#3a7cc2" stroke-width="1.7"/>
<path d="M382.3,468.2L388.6,474.5L382.3,480.8L376.0,474.5Z" fill="#3a7cc2"/>
<text x="413.50" y="480.47" font-size="16.5" text-anchor="start" font-weight="normal" fill="#111" stroke="#111" stroke-width="0.35">1.0</text>
<line x1="361" y1="494.4" x2="403.5" y2="494.4" stroke="#84d6f2" stroke-width="1.7"/>
<path d="M382.3,488.1L388.6,494.4L382.3,500.7L376.0,494.4Z" fill="#84d6f2"/>
<text x="413.50" y="500.44" font-size="16.5" text-anchor="start" font-weight="normal" fill="#111" stroke="#111" stroke-width="0.35">1.5</text>
<line x1="361" y1="514.4" x2="403.5" y2="514.4" stroke="#12861a" stroke-width="1.7"/>
<path d="M382.3,508.1L388.6,514.4L382.3,520.7L376.0,514.4Z" fill="#12861a"/>
<text x="413.50" y="520.41" font-size="16.5" text-anchor="start" font-weight="normal" fill="#111" stroke="#111" stroke-width="0.35">2.0</text>
<line x1="361" y1="534.4" x2="403.5" y2="534.4" stroke="#cfd46a" stroke-width="1.7"/>
<path d="M382.3,529.3L387.4,534.4L382.3,539.5L377.2,534.4Z" fill="#fff" stroke="#cfd46a" stroke-width="1.7"/>
<text x="413.50" y="540.38" font-size="16.5" text-anchor="start" font-weight="normal" fill="#111" stroke="#111" stroke-width="0.35">3.0</text>
<line x1="361" y1="554.4" x2="403.5" y2="554.4" stroke="#ec8a2e" stroke-width="1.7"/>
<path d="M382.3,549.2L387.4,554.4L382.3,559.5L377.2,554.4Z" fill="#fff" stroke="#ec8a2e" stroke-width="1.7"/>
<text x="413.50" y="560.35" font-size="16.5" text-anchor="start" font-weight="normal" fill="#111" stroke="#111" stroke-width="0.35">4.0</text>
<line x1="361" y1="574.3" x2="403.5" y2="574.3" stroke="#d86a4e" stroke-width="1.7"/>
<path d="M382.3,569.2L387.4,574.3L382.3,579.4L377.2,574.3Z" fill="#fff" stroke="#d86a4e" stroke-width="1.7"/>
<text x="413.50" y="580.32" font-size="16.5" text-anchor="start" font-weight="normal" fill="#111" stroke="#111" stroke-width="0.35">5.0</text>
<line x1="361" y1="594.3" x2="403.5" y2="594.3" stroke="#d23c66" stroke-width="1.7"/>
<path d="M382.3,589.2L387.4,594.3L382.3,599.4L377.2,594.3Z" fill="#fff" stroke="#d23c66" stroke-width="1.7"/>
<text x="413.50" y="600.29" font-size="16.5" text-anchor="start" font-weight="normal" fill="#111" stroke="#111" stroke-width="0.35">6.0</text>
<line x1="361" y1="614.3" x2="403.5" y2="614.3" stroke="#7e1222" stroke-width="1.7"/>
<path d="M382.3,609.1L387.4,614.3L382.3,619.4L377.2,614.3Z" fill="#fff" stroke="#7e1222" stroke-width="1.7"/>
<text x="413.50" y="620.26" font-size="16.5" text-anchor="start" font-weight="normal" fill="#111" stroke="#111" stroke-width="0.35">7.5</text>
<g transform="matrix(0.93684 0 0 1.06774 466.500 668.326)"><text x="0.00" y="0.00" font-size="34" text-anchor="middle" font-weight="bold" fill="#111" >(c)</text></g>
<text x="588.40" y="730.00" font-size="20" text-anchor="middle" font-weight="normal" fill="#111" stroke="#111" stroke-width="0.35">0</text>
<text x="674.66" y="730.00" font-size="20" text-anchor="middle" font-weight="normal" fill="#111" stroke="#111" stroke-width="0.35">0.2</text>
<text x="760.92" y="730.00" font-size="20" text-anchor="middle" font-weight="normal" fill="#111" stroke="#111" stroke-width="0.35">0.4</text>
<text x="847.18" y="730.00" font-size="20" text-anchor="middle" font-weight="normal" fill="#111" stroke="#111" stroke-width="0.35">0.6</text>
<text x="933.44" y="730.00" font-size="20" text-anchor="middle" font-weight="normal" fill="#111" stroke="#111" stroke-width="0.35">0.8</text>
<text x="1019.70" y="730.00" font-size="20" text-anchor="middle" font-weight="normal" fill="#111" stroke="#111" stroke-width="0.35">1</text>
<text x="582.30" y="711.40" font-size="20" text-anchor="end" font-weight="normal" fill="#111" stroke="#111" stroke-width="0.35">0</text>
<text x="582.30" y="660.48" font-size="20" text-anchor="end" font-weight="normal" fill="#111" stroke="#111" stroke-width="0.35">0.2</text>
<text x="582.30" y="609.57" font-size="20" text-anchor="end" font-weight="normal" fill="#111" stroke="#111" stroke-width="0.35">0.4</text>
<text x="582.30" y="558.65" font-size="20" text-anchor="end" font-weight="normal" fill="#111" stroke="#111" stroke-width="0.35">0.6</text>
<text x="582.30" y="507.73" font-size="20" text-anchor="end" font-weight="normal" fill="#111" stroke="#111" stroke-width="0.35">0.8</text>
<text x="582.30" y="456.82" font-size="20" text-anchor="end" font-weight="normal" fill="#111" stroke="#111" stroke-width="0.35">1</text>
<text x="582.30" y="405.90" font-size="20" text-anchor="end" font-weight="normal" fill="#111" stroke="#111" stroke-width="0.35">1.2</text>
<g transform="matrix(1.01818 0 0 1.05000 800.491 759.100)"><text x="0.00" y="0.00" font-size="22" text-anchor="middle" font-weight="bold" fill="#111" >b</text></g>
<g transform="matrix(1.07273 0 0 1.14286 536.591 606.643)"><text transform="translate(0,0) rotate(-90)" font-size="21" font-weight="bold" fill="#111">F<tspan font-size="14" dy="4">p</tspan><tspan dy="-4"> / F</tspan><tspan font-size="14" dy="4">p max</tspan></text></g>
<path d="M596.0,682.5L603.0,694.6L589.0,694.6Z" fill="#7f7f7f"/>
<path d="M616.6,635.0L623.6,647.1L609.6,647.1Z" fill="#7f7f7f"/>
<path d="M625.8,595.0L632.8,582.9L618.8,582.9Z" fill="#7f7f7f"/>
<path d="M635.0,581.8L642.0,593.9L628.0,593.9Z" fill="#7f7f7f"/>
<path d="M638.6,541.9L645.6,529.8L631.6,529.8Z" fill="#7f7f7f"/>
<path d="M649.6,501.3L656.6,513.4L642.6,513.4Z" fill="#7f7f7f"/>
<path d="M676.0,443.5L683.0,455.6L669.0,455.6Z" fill="#7f7f7f"/>
<path d="M690.0,456.5L697.0,444.4L683.0,444.4Z" fill="#7f7f7f"/>
<path d="M715.5,499.8L722.5,487.7L708.5,487.7Z" fill="#7f7f7f"/>
<path d="M741.2,565.7L748.2,553.6L734.2,553.6Z" fill="#7f7f7f"/>
<path d="M775.4,597.7L782.4,609.8L768.4,609.8Z" fill="#7f7f7f"/>
<path d="M822.5,660.5L829.5,672.6L815.5,672.6Z" fill="#7f7f7f"/>
<path d="M844.1,708.0L851.1,695.9L837.1,695.9Z" fill="#7f7f7f"/>
<path d="M593.58,703.82L594.64,702.79L595.71,701.53L596.77,700.04L597.84,698.33L598.90,696.40L599.97,694.26L601.03,691.91L602.10,689.36L603.16,686.61L604.23,683.69L605.29,680.59L606.36,677.32L607.42,673.90L608.49,670.33L609.56,666.62L610.62,662.79L611.69,658.84L612.75,654.78L613.82,650.62L614.88,646.37L615.95,642.05L617.01,637.65L618.08,633.19L619.14,628.68L620.21,624.12L621.27,619.52L622.34,614.90L623.40,610.26L624.47,605.60L625.53,600.94L626.60,596.29L627.67,591.64L628.73,587.01L629.80,582.40L630.86,577.81L631.93,573.27L632.99,568.76L634.06,564.30L635.12,559.89L636.19,555.54L637.25,551.24L638.32,547.01L639.38,542.86L640.45,538.77L641.51,534.77L642.58,530.84L643.65,527.00L644.71,523.25L645.78,519.59L646.84,516.02L647.91,512.55L648.97,509.17L650.04,505.90L651.10,502.73L652.17,499.66L653.23,496.70L654.30,493.85L655.36,491.10L656.43,488.47L657.49,485.94L658.56,483.53L659.62,481.22L660.69,479.03L661.76,476.96L662.82,474.99L663.89,473.14L664.95,471.40L666.02,469.78L667.08,468.26L668.15,466.86L669.21,465.57L670.28,464.39L671.34,463.32L672.41,462.36L673.47,461.50L674.54,460.76L675.60,460.12L676.67,459.58L677.74,459.15L678.80,458.82L679.87,458.59L680.93,458.46L682.00,458.43L683.06,458.49L684.13,458.65L685.19,458.90L686.26,459.25L687.32,459.68L688.39,460.20L689.45,460.80L690.52,461.49L691.58,462.27L692.65,463.12L693.71,464.05L694.78,465.06L695.85,466.14L696.91,467.29L697.98,468.51L699.04,469.80L700.11,471.16L701.17,472.58L702.24,474.06L703.30,475.61L704.37,477.21L705.43,478.87L706.50,480.58L707.56,482.34L708.63,484.15L709.69,486.01L710.76,487.92L711.83,489.87L712.89,491.86L713.96,493.89L715.02,495.96L716.09,498.07L717.15,500.21L718.22,502.38L719.28,504.58L720.35,506.81L721.41,509.07L722.48,511.35L723.54,513.65L724.61,515.98L725.67,518.32L726.74,520.69L727.80,523.07L728.87,525.46L729.94,527.87L731.00,530.29L732.07,532.71L733.13,535.15L734.20,537.60L735.26,540.04L736.33,542.50L737.39,544.95L738.46,547.41L739.52,549.87L740.59,552.32L741.65,554.78L742.72,557.22L743.78,559.67L744.85,562.11L745.92,564.54L746.98,566.96L748.05,569.37L749.11,571.78L750.18,574.17L751.24,576.55L752.31,578.91L753.37,581.26L754.44,583.60L755.50,585.92L756.57,588.23L757.63,590.51L758.70,592.78L759.76,595.03L760.83,597.26L761.89,599.47L762.96,601.66L764.03,603.83L765.09,605.98L766.16,608.10L767.22,610.21L768.29,612.28L769.35,614.34L770.42,616.37L771.48,618.38L772.55,620.36L773.61,622.31L774.68,624.24L775.74,626.15L776.81,628.03L777.87,629.88L778.94,631.71L780.01,633.51L781.07,635.28L782.14,637.03L783.20,638.75L784.27,640.44L785.33,642.10L786.40,643.74L787.46,645.35L788.53,646.93L789.59,648.49L790.66,650.02L791.72,651.52L792.79,652.99L793.85,654.44L794.92,655.86L795.98,657.25L797.05,658.62L798.12,659.96L799.18,661.27L800.25,662.56L801.31,663.82L802.38,665.05L803.44,666.26L804.51,667.44L805.57,668.60L806.64,669.73L807.70,670.84L808.77,671.92L809.83,672.98L810.90,674.01L811.96,675.02L813.03,676.00L814.09,676.97L815.16,677.90L816.23,678.82L817.29,679.71L818.36,680.58L819.42,681.43L820.49,682.26L821.55,683.06L822.62,683.85L823.68,684.61L824.75,685.36L825.81,686.08L826.88,686.78L827.94,687.47L829.01,688.13L830.07,688.78L831.14,689.40L832.21,690.01L833.27,690.60L834.34,691.18L835.40,691.74L836.47,692.28L837.53,692.80L838.60,693.31L839.66,693.80L840.73,694.28L841.79,694.74L842.86,695.18L843.92,695.61L844.99,696.03L846.05,696.44L847.12,696.83L848.18,697.20L849.25,697.57L850.32,697.92L851.38,698.26L852.45,698.59L853.51,698.91L854.58,699.21L855.64,699.50L856.71,699.79L857.77,700.06L858.84,700.32L859.90,700.58L860.97,700.82L862.03,701.05L863.10,701.28L864.16,701.49L865.23,701.70L866.30,701.90L867.36,702.09L868.43,702.27L869.49,702.45L870.56,702.62L871.62,702.78L872.69,702.93L873.75,703.08L874.82,703.22L875.88,703.36L876.95,703.49L878.01,703.61L879.08,703.73L880.14,703.84L881.21,703.95L882.27,704.05L883.34,704.15L884.41,704.24L885.47,704.33L886.54,704.42L887.60,704.50L888.67,704.57L889.73,704.65L890.80,704.72L891.86,704.78L892.93,704.84L893.99,704.90L895.06,704.96L896.12,705.01L897.19,705.06L898.25,705.11L899.32,705.15L900.39,705.20L901.45,705.24L902.52,705.27L903.58,705.31L904.65,705.34L905.71,705.37L906.78,705.40L907.84,705.43L908.91,705.46L909.97,705.48L911.04,705.50L912.10,705.53L913.17,705.55L914.23,705.57L915.30,705.58L916.36,705.60L917.43,705.62L918.50,705.63L919.56,705.64L920.63,705.66L921.69,705.67L922.76,705.68L923.82,705.69L924.89,705.70L925.95,705.71L927.02,705.71L928.08,705.72L929.15,705.73L930.21,705.74L931.28,705.74L932.34,705.75L933.41,705.75L934.48,705.76L935.54,705.76L936.61,705.76L937.67,705.77L938.74,705.77L939.80,705.77L940.87,705.78L941.93,705.78L943.00,705.78L944.06,705.78L945.13,705.78L946.19,705.79L947.26,705.79L948.32,705.79L949.39,705.79L950.45,705.79L951.52,705.79L952.59,705.79L953.65,705.79L954.72,705.79L955.78,705.80L956.85,705.80L957.91,705.80L958.98,705.80L960.04,705.80L961.11,705.80L962.17,705.80L963.24,705.80L964.30,705.80L965.37,705.80L966.43,705.80L967.50,705.80L968.57,705.80L969.63,705.80L970.70,705.80L971.76,705.80L972.83,705.80L973.89,705.80L974.96,705.80L976.02,705.80L977.09,705.80L978.15,705.80L979.22,705.80L980.28,705.80L981.35,705.80L982.41,705.80L983.48,705.80L984.54,705.80L985.61,705.80L986.68,705.80L987.74,705.80L988.81,705.80L989.87,705.80L990.94,705.80L992.00,705.80L993.07,705.80L994.13,705.80L995.20,705.80L996.26,705.80L997.33,705.80L998.39,705.80L999.46,705.80L1000.52,705.80L1001.59,705.80L1002.66,705.80L1003.72,705.80L1004.79,705.80L1005.85,705.80L1006.92,705.80L1007.98,705.80L1009.05,705.80L1010.11,705.80L1011.18,705.80L1012.24,705.80L1013.31,705.80L1014.37,705.80L1015.44,705.80L1016.50,705.80L1017.57,705.80L1018.63,705.80L1019.70,705.80" fill="none" stroke="#ec1519" stroke-width="4.4" stroke-linejoin="round" stroke-linecap="round"/>
<path d="M592.8,679.4L599.8,686.4L592.8,693.4L585.8,686.4Z" fill="#7f7f7f"/>
<rect x="592.8" y="691.9" width="11" height="11" fill="#7f7f7f"/>
<circle cx="594.0" cy="694.0" r="6" fill="#7f7f7f"/>
<path d="M604.9,639.1L611.9,646.1L604.9,653.1L597.9,646.1Z" fill="#7f7f7f"/>
<path d="M608.6,633.1L606.5,637.0L602.1,636.9L604.5,640.6L602.1,644.4L606.5,644.2L608.6,648.1L610.7,644.2L615.1,644.4L612.7,640.6L615.1,636.9L610.7,637.0Z" fill="#7f7f7f"/>
<path d="M613.7,600.7L620.7,607.7L613.7,614.7L606.7,607.7Z" fill="#7f7f7f"/>
<path d="M616.6,592.8L614.5,596.7L610.1,596.5L612.5,600.3L610.1,604.0L614.5,603.9L616.6,607.8L618.7,603.9L623.1,604.0L620.7,600.3L623.1,596.5L618.7,596.7Z" fill="#7f7f7f"/>
<circle cx="625.8" cy="661.5" r="6" fill="#7f7f7f"/>
<rect x="625.0" y="666.3" width="11" height="11" fill="#7f7f7f"/>
<circle cx="645.2" cy="610.2" r="6" fill="#7f7f7f"/>
<rect x="645.9" y="640.6" width="11" height="11" fill="#7f7f7f"/>
<path d="M626.9,552.5L624.8,556.4L620.4,556.2L622.8,560.0L620.4,563.8L624.8,563.6L626.9,567.5L629.0,563.6L633.4,563.8L631.0,560.0L633.4,556.2L629.0,556.4Z" fill="#7f7f7f"/>
<path d="M647.8,484.8L645.7,488.7L641.3,488.6L643.7,492.3L641.3,496.1L645.7,495.9L647.8,499.8L649.9,495.9L654.3,496.1L651.9,492.3L654.3,488.6L649.9,488.7Z" fill="#7f7f7f"/>
<path d="M656.9,467.0L663.9,474.0L656.9,481.0L649.9,474.0Z" fill="#7f7f7f"/>
<circle cx="665.0" cy="458.0" r="6" fill="#7f7f7f"/>
<path d="M668.0,448.0L675.0,455.0L668.0,462.0L661.0,455.0Z" fill="#7f7f7f"/>
<path d="M663.0,454.5L660.9,458.4L656.5,458.2L658.9,462.0L656.5,465.8L660.9,465.6L663.0,469.5L665.1,465.6L669.5,465.8L667.1,462.0L669.5,458.2L665.1,458.4Z" fill="#7f7f7f"/>
<circle cx="660.0" cy="466.0" r="6" fill="#7f7f7f"/>
<path d="M675.0,440.5L672.9,444.4L668.5,444.2L670.9,448.0L668.5,451.8L672.9,451.6L675.0,455.5L677.1,451.6L681.5,451.8L679.1,448.0L681.5,444.2L677.1,444.4Z" fill="#7f7f7f"/>
<path d="M672.0,444.5L669.9,448.4L665.5,448.2L667.9,452.0L665.5,455.8L669.9,455.6L672.0,459.5L674.1,455.6L678.5,455.8L676.1,452.0L678.5,448.2L674.1,448.4Z" fill="#7f7f7f"/>
<circle cx="682.0" cy="452.0" r="6" fill="#7f7f7f"/>
<path d="M687.0,447.5L684.9,451.4L680.5,451.2L682.9,455.0L680.5,458.8L684.9,458.6L687.0,462.5L689.1,458.6L693.5,458.8L691.1,455.0L693.5,451.2L689.1,451.4Z" fill="#7f7f7f"/>
<path d="M686.0,450.5L683.9,454.4L679.5,454.2L681.9,458.0L679.5,461.8L683.9,461.6L686.0,465.5L688.1,461.6L692.5,461.8L690.1,458.0L692.5,454.2L688.1,454.4Z" fill="#7f7f7f"/>
<circle cx="702.7" cy="451.2" r="6" fill="#7f7f7f"/>
<path d="M691.7,481.6L698.7,488.6L691.7,495.6L684.7,488.6Z" fill="#7f7f7f"/>
<path d="M708.2,481.1L706.1,485.0L701.7,484.9L704.1,488.6L701.7,492.4L706.1,492.2L708.2,496.1L710.3,492.2L714.7,492.4L712.3,488.6L714.7,484.9L710.3,485.0Z" fill="#7f7f7f"/>
<rect x="710.0" y="532.5" width="11" height="11" fill="#7f7f7f"/>
<path d="M718.5,542.0L725.5,549.0L718.5,556.0L711.5,549.0Z" fill="#7f7f7f"/>
<path d="M737.5,532.4L735.4,536.3L731.0,536.1L733.4,539.9L731.0,543.6L735.4,543.5L737.5,547.4L739.6,543.5L744.0,543.6L741.6,539.9L744.0,536.1L739.6,536.3Z" fill="#7f7f7f"/>
<circle cx="740.4" cy="583.8" r="6" fill="#7f7f7f"/>
<rect x="752.2" y="609.5" width="11" height="11" fill="#7f7f7f"/>
<path d="M763.2,665.5L770.2,672.5L763.2,679.5L756.2,672.5Z" fill="#7f7f7f"/>
<path d="M782.2,600.6L780.1,604.5L775.7,604.4L778.1,608.1L775.7,611.9L780.1,611.7L782.2,615.6L784.3,611.7L788.7,611.9L786.3,608.1L788.7,604.4L784.3,604.5Z" fill="#7f7f7f"/>
<circle cx="778.3" cy="617.0" r="6" fill="#7f7f7f"/>
<rect x="794.4" y="635.0" width="11" height="11" fill="#7f7f7f"/>
<circle cx="817.6" cy="675.0" r="6" fill="#7f7f7f"/>
<rect x="836.7" y="678.3" width="11" height="11" fill="#7f7f7f"/>
<circle cx="874.6" cy="692.6" r="6" fill="#7f7f7f"/>
<rect x="900.0" y="688.8" width="11" height="11" fill="#7f7f7f"/>
<path d="M903.0,695.0L910.0,702.0L903.0,709.0L896.0,702.0Z" fill="#7f7f7f"/>
<rect x="902.3" y="417.5" width="92.5" height="129.5" fill="#fff" stroke="#333" stroke-width="1.3"/>
<path d="M918.0,425.0L925.0,432.0L918.0,439.0L911.0,432.0Z" fill="#7f7f7f"/>
<text x="935.00" y="438.50" font-size="17" text-anchor="start" font-weight="normal" fill="#111" stroke="#111" stroke-width="0.35">3.93 K</text>
<path d="M918.0,444.5L915.9,448.4L911.5,448.2L913.9,452.0L911.5,455.8L915.9,455.6L918.0,459.5L920.1,455.6L924.5,455.8L922.1,452.0L924.5,448.2L920.1,448.4Z" fill="#7f7f7f"/>
<text x="935.00" y="458.50" font-size="17" text-anchor="start" font-weight="normal" fill="#111" stroke="#111" stroke-width="0.35">3.95 K</text>
<path d="M918.0,479.5L925.0,467.4L911.0,467.4Z" fill="#7f7f7f"/>
<text x="935.00" y="478.50" font-size="17" text-anchor="start" font-weight="normal" fill="#111" stroke="#111" stroke-width="0.35">3.99 K</text>
<path d="M918.0,484.5L925.0,496.6L911.0,496.6Z" fill="#7f7f7f"/>
<text x="935.00" y="498.50" font-size="17" text-anchor="start" font-weight="normal" fill="#111" stroke="#111" stroke-width="0.35">4.01 K</text>
<circle cx="918.0" cy="512.0" r="6" fill="#7f7f7f"/>
<text x="935.00" y="518.50" font-size="17" text-anchor="start" font-weight="normal" fill="#111" stroke="#111" stroke-width="0.35">4.03 K</text>
<rect x="912.5" y="526.5" width="11" height="11" fill="#7f7f7f"/>
<text x="935.00" y="538.50" font-size="17" text-anchor="start" font-weight="normal" fill="#111" stroke="#111" stroke-width="0.35">4.04 K</text>
<g transform="matrix(1.00500 0 0 1.06129 986.700 668.371)"><text x="0.00" y="0.00" font-size="34" text-anchor="middle" font-weight="bold" fill="#111" >(d)</text></g>
<path d="M68.70,317.20v-12M90.27,317.20v-5.5M111.84,317.20v-5.5M133.41,317.20v-5.5M154.98,317.20v-12M176.55,317.20v-5.5M198.12,317.20v-5.5M219.69,317.20v-5.5M241.26,317.20v-12M262.83,317.20v-5.5M284.40,317.20v-5.5M305.97,317.20v-5.5M327.54,317.20v-12M349.11,317.20v-5.5M370.68,317.20v-5.5M392.25,317.20v-5.5M413.82,317.20v-12M435.39,317.20v-5.5M456.96,317.20v-5.5M478.53,317.20v-5.5M500.10,317.20v-12M68.70,12.00v11M85.96,12.00v5.3M103.21,12.00v5.3M120.47,12.00v5.3M137.72,12.00v5.3M154.98,12.00v11M172.24,12.00v5.3M189.49,12.00v5.3M206.75,12.00v5.3M224.00,12.00v5.3M241.26,12.00v11M258.52,12.00v5.3M275.77,12.00v5.3M293.03,12.00v5.3M310.28,12.00v5.3M327.54,12.00v11M344.80,12.00v5.3M362.05,12.00v5.3M379.31,12.00v5.3M396.56,12.00v5.3M413.82,12.00v11M431.08,12.00v5.3M448.33,12.00v5.3M465.59,12.00v5.3M482.84,12.00v5.3M500.10,12.00v11M68.70,317.20h12M68.70,307.03h5.5M68.70,296.85h5.5M68.70,286.68h5.5M68.70,276.51h5.5M68.70,266.33h12M68.70,256.16h5.5M68.70,245.99h5.5M68.70,235.81h5.5M68.70,225.64h5.5M68.70,215.47h12M68.70,205.29h5.5M68.70,195.12h5.5M68.70,184.95h5.5M68.70,174.77h5.5M68.70,164.60h12M68.70,154.43h5.5M68.70,144.25h5.5M68.70,134.08h5.5M68.70,123.91h5.5M68.70,113.73h12M68.70,103.56h5.5M68.70,93.39h5.5M68.70,83.21h5.5M68.70,73.04h5.5M68.70,62.87h12M68.70,52.69h5.5M68.70,42.52h5.5M68.70,32.35h5.5M68.70,22.17h5.5M68.70,12.00h12M500.10,317.20h-11.3M500.10,300.24h-4.5M500.10,283.29h-4.5M500.10,266.33h-4.5M500.10,249.38h-4.5M500.10,232.42h-4.5M500.10,215.47h-11.3M500.10,198.51h-4.5M500.10,181.56h-4.5M500.10,164.60h-4.5M500.10,147.64h-4.5M500.10,130.69h-4.5M500.10,113.73h-11.3M500.10,96.78h-4.5M500.10,79.82h-4.5M500.10,62.87h-4.5M500.10,45.91h-4.5M500.10,28.96h-4.5M500.10,12.00h-11.3" stroke="#2a2a2a" stroke-width="1.3" fill="none"/>
<rect x="68.70" y="12.00" width="431.40" height="305.20" stroke="#2a2a2a" stroke-width="1.3" fill="none"/>
<path d="M589.90,316.00v-9.5M609.44,316.00v-5.5M628.97,316.00v-5.5M648.51,316.00v-5.5M668.05,316.00v-9.5M687.58,316.00v-5.5M707.12,316.00v-5.5M726.65,316.00v-5.5M746.19,316.00v-9.5M765.73,316.00v-5.5M785.26,316.00v-5.5M804.80,316.00v-5.5M824.34,316.00v-9.5M843.87,316.00v-5.5M863.41,316.00v-5.5M882.95,316.00v-5.5M902.48,316.00v-9.5M922.02,316.00v-5.5M941.55,316.00v-5.5M961.09,316.00v-5.5M980.63,316.00v-9.5M1000.16,316.00v-5.5M1019.70,316.00v-5.5M589.90,11.00v9.5M609.44,11.00v5.5M628.97,11.00v5.5M648.51,11.00v5.5M668.05,11.00v9.5M687.58,11.00v5.5M707.12,11.00v5.5M726.65,11.00v5.5M746.19,11.00v9.5M765.73,11.00v5.5M785.26,11.00v5.5M804.80,11.00v5.5M824.34,11.00v9.5M843.87,11.00v5.5M863.41,11.00v5.5M882.95,11.00v5.5M902.48,11.00v9.5M922.02,11.00v5.5M941.55,11.00v5.5M961.09,11.00v5.5M980.63,11.00v9.5M1000.16,11.00v5.5M1019.70,11.00v5.5M589.90,316.00h9.5M589.90,299.06h5M589.90,282.11h5M589.90,265.17h5M589.90,248.22h5M589.90,231.28h5M589.90,214.33h9.5M589.90,197.39h5M589.90,180.44h5M589.90,163.50h5M589.90,146.56h5M589.90,129.61h5M589.90,112.67h9.5M589.90,95.72h5M589.90,78.78h5M589.90,61.83h5M589.90,44.89h5M589.90,27.94h5M589.90,11.00h9.5M1019.70,316.00h-9.5M1019.70,299.06h-5M1019.70,282.11h-5M1019.70,265.17h-5M1019.70,248.22h-5M1019.70,231.28h-5M1019.70,214.33h-9.5M1019.70,197.39h-5M1019.70,180.44h-5M1019.70,163.50h-5M1019.70,146.56h-5M1019.70,129.61h-5M1019.70,112.67h-9.5M1019.70,95.72h-5M1019.70,78.78h-5M1019.70,61.83h-5M1019.70,44.89h-5M1019.70,27.94h-5M1019.70,11.00h-9.5" stroke="#2a2a2a" stroke-width="1.3" fill="none"/>
<rect x="589.90" y="11.00" width="429.80" height="305.00" stroke="#2a2a2a" stroke-width="1.3" fill="none"/>
<path d="M68.80,704.20v-10.8M86.04,704.20v-6.7M103.28,704.20v-6.7M120.52,704.20v-6.7M137.76,704.20v-6.7M155.00,704.20v-10.8M172.24,704.20v-6.7M189.48,704.20v-6.7M206.72,704.20v-6.7M223.96,704.20v-6.7M241.20,704.20v-10.8M258.44,704.20v-6.7M275.68,704.20v-6.7M292.92,704.20v-6.7M310.16,704.20v-6.7M327.40,704.20v-10.8M344.64,704.20v-6.7M361.88,704.20v-6.7M379.12,704.20v-6.7M396.36,704.20v-6.7M413.60,704.20v-10.8M430.84,704.20v-6.7M448.08,704.20v-6.7M465.32,704.20v-6.7M482.56,704.20v-6.7M499.80,704.20v-10.8M68.80,400.00v10.8M86.04,400.00v6.7M103.28,400.00v6.7M120.52,400.00v6.7M137.76,400.00v6.7M155.00,400.00v10.8M172.24,400.00v6.7M189.48,400.00v6.7M206.72,400.00v6.7M223.96,400.00v6.7M241.20,400.00v10.8M258.44,400.00v6.7M275.68,400.00v6.7M292.92,400.00v6.7M310.16,400.00v6.7M327.40,400.00v10.8M344.64,400.00v6.7M361.88,400.00v6.7M379.12,400.00v6.7M396.36,400.00v6.7M413.60,400.00v10.8M430.84,400.00v6.7M448.08,400.00v6.7M465.32,400.00v6.7M482.56,400.00v6.7M499.80,400.00v10.8M68.80,704.20h10.8M68.80,683.08h6.7M68.80,661.95h6.7M68.80,640.83h6.7M68.80,619.70h6.7M68.80,598.58h6.7M68.80,577.45h10.8M68.80,556.33h6.7M68.80,535.20h6.7M68.80,514.08h6.7M68.80,492.95h6.7M68.80,471.82h6.7M68.80,450.70h10.8M68.80,429.57h6.7M68.80,408.45h6.7M499.80,704.20h-10.8M499.80,683.08h-6.7M499.80,661.95h-6.7M499.80,640.83h-6.7M499.80,619.70h-6.7M499.80,598.58h-6.7M499.80,577.45h-10.8M499.80,556.33h-6.7M499.80,535.20h-6.7M499.80,514.08h-6.7M499.80,492.95h-6.7M499.80,471.82h-6.7M499.80,450.70h-10.8M499.80,429.57h-6.7M499.80,408.45h-6.7" stroke="#2a2a2a" stroke-width="1.3" fill="none"/>
<rect x="68.80" y="400.00" width="431.00" height="304.20" stroke="#2a2a2a" stroke-width="1.3" fill="none"/>
<path d="M588.40,705.80v-9.8M609.97,705.80v-5.9M631.53,705.80v-5.9M653.10,705.80v-5.9M674.66,705.80v-9.8M696.23,705.80v-5.9M717.79,705.80v-5.9M739.36,705.80v-5.9M760.92,705.80v-9.8M782.49,705.80v-5.9M804.05,705.80v-5.9M825.62,705.80v-5.9M847.18,705.80v-9.8M868.75,705.80v-5.9M890.31,705.80v-5.9M911.88,705.80v-5.9M933.44,705.80v-9.8M955.01,705.80v-5.9M976.57,705.80v-5.9M998.13,705.80v-5.9M1019.70,705.80v-9.8M588.40,400.30v9.8M609.97,400.30v5.9M631.53,400.30v5.9M653.10,400.30v5.9M674.66,400.30v9.8M696.23,400.30v5.9M717.79,400.30v5.9M739.36,400.30v5.9M760.92,400.30v9.8M782.49,400.30v5.9M804.05,400.30v5.9M825.62,400.30v5.9M847.18,400.30v9.8M868.75,400.30v5.9M890.31,400.30v5.9M911.88,400.30v5.9M933.44,400.30v9.8M955.01,400.30v5.9M976.57,400.30v5.9M998.13,400.30v5.9M1019.70,400.30v9.8M588.40,705.80h9.8M588.40,680.34h5.9M588.40,654.88h9.8M588.40,629.42h5.9M588.40,603.97h9.8M588.40,578.51h5.9M588.40,553.05h9.8M588.40,527.59h5.9M588.40,502.13h9.8M588.40,476.68h5.9M588.40,451.22h9.8M588.40,425.76h5.9M588.40,400.30h9.8M1019.70,705.80h-9.8M1019.70,680.34h-5.9M1019.70,654.88h-9.8M1019.70,629.42h-5.9M1019.70,603.97h-9.8M1019.70,578.51h-5.9M1019.70,553.05h-9.8M1019.70,527.59h-5.9M1019.70,502.13h-9.8M1019.70,476.68h-5.9M1019.70,451.22h-9.8M1019.70,425.76h-5.9M1019.70,400.30h-9.8" stroke="#2a2a2a" stroke-width="1.3" fill="none"/>
<rect x="588.40" y="400.30" width="431.30" height="305.50" stroke="#2a2a2a" stroke-width="1.3" fill="none"/>
</svg></body></html>
